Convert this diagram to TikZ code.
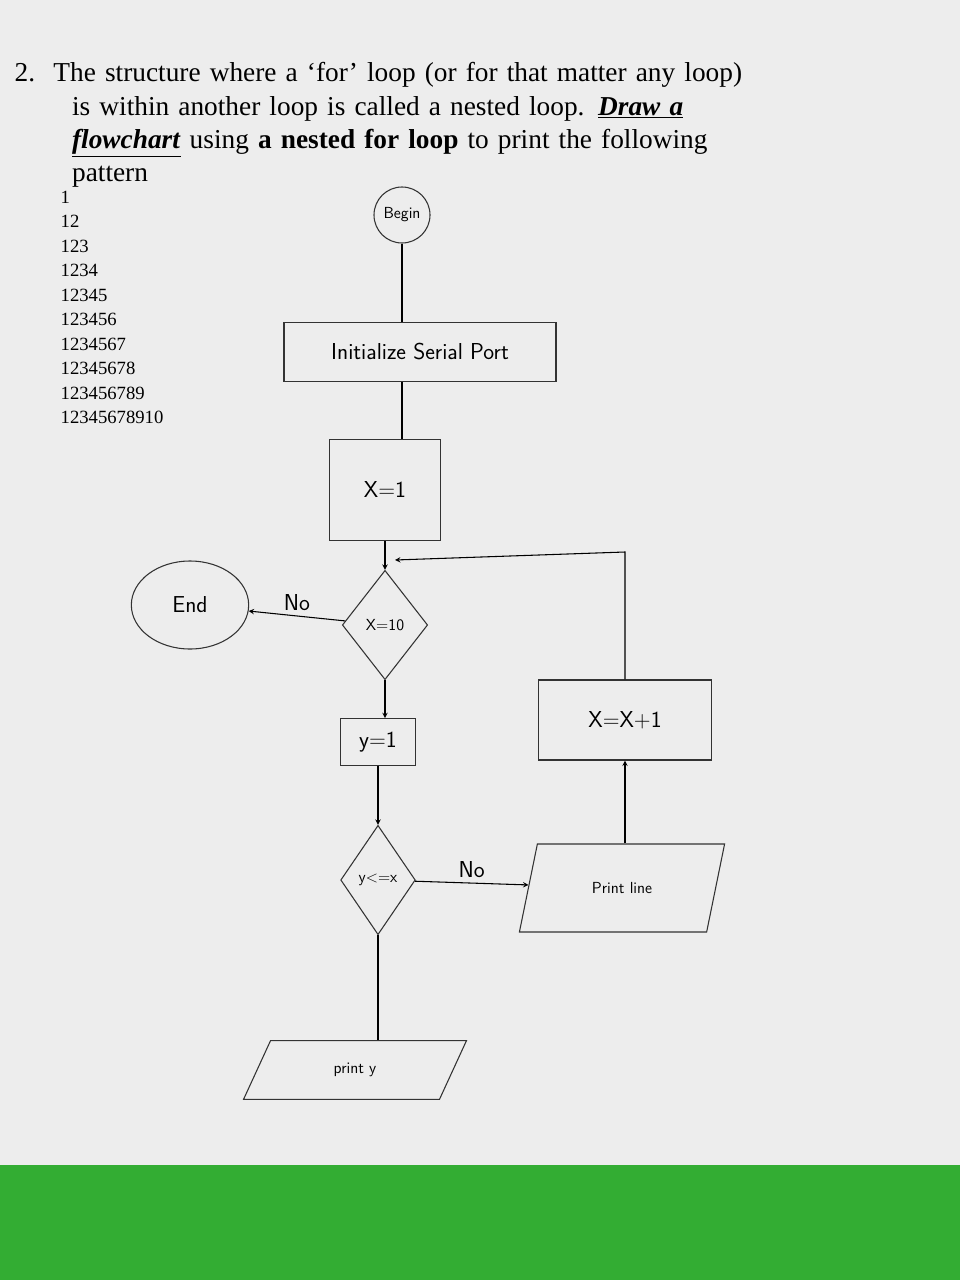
\documentclass[tikz,border=0pt]{standalone}
\usepackage{fontspec}
\setmainfont{Liberation Serif}
\usetikzlibrary{shapes.geometric, arrows}
\tikzstyle{arrow} = [thick,->,>=stealth]
\tikzstyle{line} = [thick]
\tikzstyle{startstop} = [ellipse, thick, draw=black!80, text centered, font=\sffamily\LARGE]
\tikzstyle{process} = [rectangle, thick, draw=black!80, text centered, font=\sffamily\LARGE]
\tikzstyle{decision} = [diamond, thick, draw=black!80, text centered, inner sep=1pt, font=\sffamily\large]
\tikzstyle{io} = [trapezium, trapezium left angle=70, trapezium right angle=110, trapezium stretches=true, thick, draw=black!80, text centered, font=\sffamily\large]

\begin{document}
\begin{tikzpicture}[x=0.75pt, y=-0.75pt]
\fill[black!7] (0,0) rectangle (960,1280);
\fill[green!60!black!80] (0,1165) rectangle (960,1280);

% question text
\node (q) [anchor=north west, align=left, font=\fontsize{20.5}{25}\selectfont, text width=700] at (10,58)
  {2.\ \ The structure where a `for' loop (or for that matter any loop)\\
  \hspace*{2.1em}is within another loop is called a nested loop. \underline{\textbf{\textit{Draw a}}}\\
  \hspace*{2.1em}\underline{\textbf{\textit{flowchart}}} using \textbf{a nested for loop} to print the following\\
  \hspace*{2.1em}pattern};
\node (pat) [anchor=north west, align=left, font=\fontsize{14}{18.4}\selectfont] at (56,186)
  {1\\12\\123\\1234\\12345\\123456\\1234567\\12345678\\123456789\\12345678910};

% flowchart
\node (begin) [circle, thick, draw=black!80, minimum size=42, font=\sffamily\large, inner sep=0pt] at (402,215) {Begin};
\node (init) [process, minimum width=204, minimum height=44] at (420,352) {Initialize Serial Port};
\node (x1) [process, minimum width=83, minimum height=76] at (385,490) {X=1};
\node (xcheck) [decision, minimum width=64, minimum height=82] at (385,625) {X=10};
\node (end) [startstop, minimum width=88, minimum height=66] at (190,605) {End};
\node (y1) [process, minimum width=56, minimum height=35] at (378,742) {y=1};
\node (ycheck) [decision, minimum width=56, minimum height=82] at (378,880) {y<=x};
\node (pline) [io, minimum width=154, minimum height=66] at (622,888) {Print line};
\node (xinc) [process, minimum width=130, minimum height=60] at (625,720) {X=X+1};
\node (printy) [io, minimum width=168, minimum height=44] at (355,1070) {print y};

\node[coordinate] (t_xinc) at (625,552) {};
\node[coordinate] (r_xcheck) at (395,560) {};

\draw [line] (begin) -- (begin |- init.north);
\draw [line] (begin |- init.south) -- (begin |- x1.north);
\draw [arrow] (x1) -- (xcheck);
\draw [arrow] (xcheck) -- node[above, font=\sffamily\LARGE]{No} (end);
\draw [arrow] (xcheck) -- (xcheck |- y1.north);
\draw [arrow] (y1) -- (ycheck);
\draw [arrow] (ycheck) -- node[above, font=\sffamily\LARGE]{No} (pline);
\draw [arrow] (pline.north -| xinc) -- (xinc);
\draw [arrow] (xinc) -- (t_xinc) -- (r_xcheck);
\draw [line] (ycheck) -- (ycheck |- printy.north);

\end{tikzpicture}
\end{document}
